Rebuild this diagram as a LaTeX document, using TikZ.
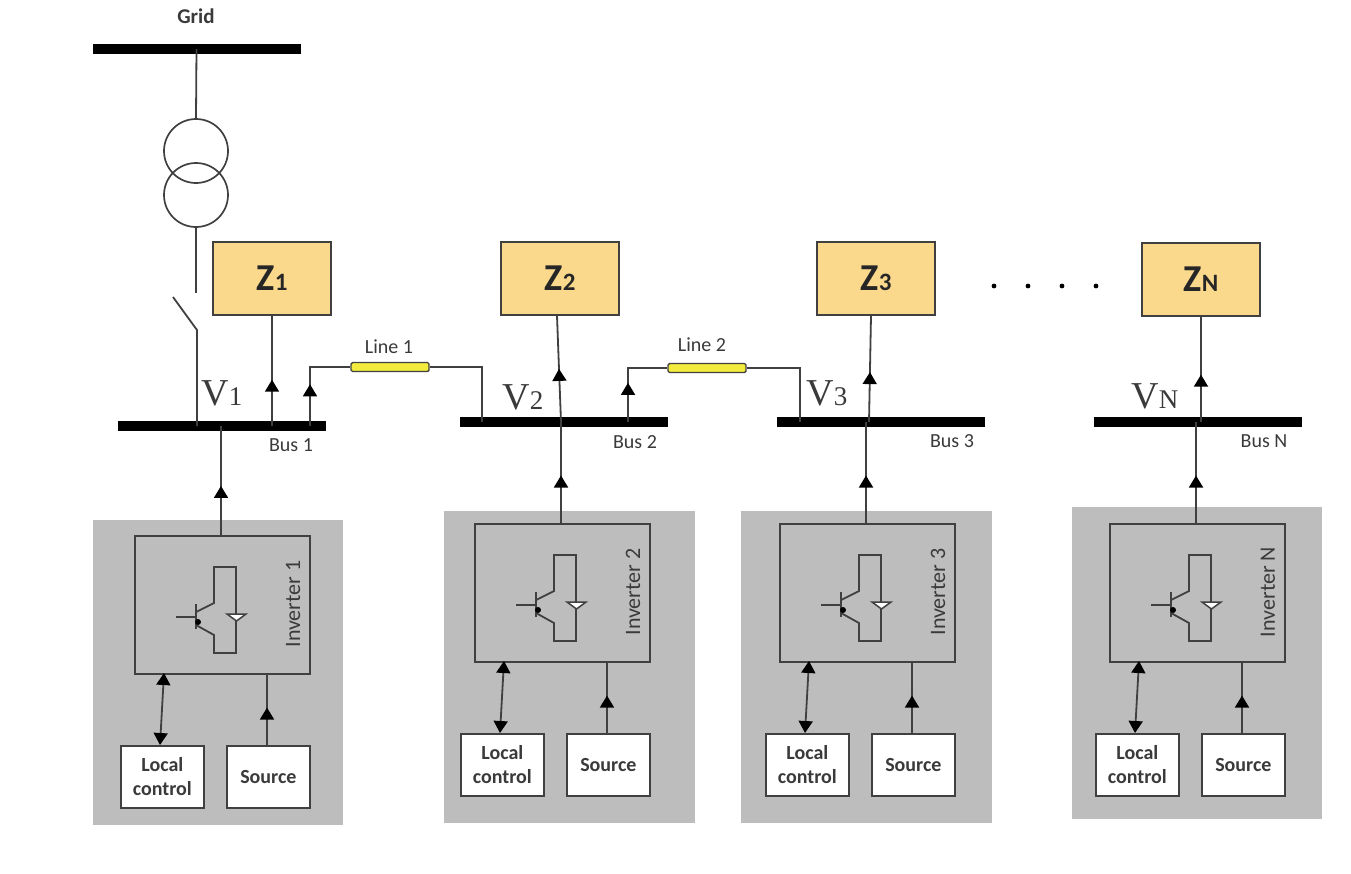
\documentclass[tikz,border=0pt]{standalone}
\usepackage{fontspec}
\setmainfont{Carlito}
\newfontfamily\serifv{Liberation Serif}
\usetikzlibrary{arrows.meta,decorations.markings}
\definecolor{ln}{HTML}{404040}
\definecolor{grayb}{HTML}{BDBDBD}
\definecolor{loadc}{HTML}{FAD98C}
\definecolor{linec}{HTML}{F2EA3C}
\definecolor{txt}{HTML}{3A3A3A}
\tikzset{
  wire/.style={draw=ln,line width=1.8pt},
  tip/.style={},
  midarr/.style={postaction={decorate},decoration={markings,mark=at position #1 with {\arrow[black]{Triangle[length=12pt,width=14pt]}}}},
  busbar/.style={fill=black,draw=none,inner sep=0pt,minimum width=208pt,minimum height=10pt},
  loadbox/.style={draw=ln,line width=1.6pt,fill=loadc,inner sep=0pt,minimum width=118pt,minimum height=73pt,font=\fontsize{38}{38}\selectfont\bfseries,text=black!85},
  invbox/.style={draw=ln,line width=1.8pt,inner sep=0pt,anchor=north west,minimum width=175pt,minimum height=138pt},
  whitebox/.style={draw=ln,line width=1.7pt,fill=white,inner sep=0pt,anchor=north west,minimum width=83pt,minimum height=62pt,align=center,font=\fontsize{20}{24}\selectfont\bfseries,text=txt},
  linebox/.style={draw=ln,line width=1.4pt,fill=linec,rounded corners=1.5pt,inner sep=0pt,minimum width=78pt,minimum height=9pt},
  smalltxt/.style={font=\fontsize{20}{20}\selectfont,text=txt,inner sep=0pt},
  grayarea/.style={fill=grayb,draw=none}
}
\newcommand{\Zlabel}[1]{Z{\fontsize{25}{25}\selectfont #1}}
\newcommand{\Vlabel}[1]{{\serifv\fontsize{38}{38}\selectfont V{\fontsize{27}{27}\selectfont #1}}}
% id, gray x1,y1,x2,y2, box x,y, label
\newcommand{\InvUnit}[8]{
  \fill[grayarea] (#2,#3) rectangle (#4,#5);
  \begin{scope}[shift={(#6,#7)}]
    \node[invbox] (inv#1) at (0,0) {};
    \node[whitebox] (loc#1) at (-14,210) {Local\\control};
    \node[whitebox] (src#1) at (92,210) {Source};
    \node[smalltxt,rotate=90,font=\fontsize{22}{22}\selectfont] (lab#1) at (159,69) {Inverter #8};
    \coordinate (top#1) at (87,0);
    \coordinate (sin#1) at (133,138);
    \coordinate (sou#1) at (133,210);
    \coordinate (cin#1) at (30,138);
    \coordinate (cou#1) at (26,210);
    \draw[wire] (62,82) -- (42,82);
    \draw[wire] (62,69) -- (62,94);
    \draw[wire] (62,77) -- (80,68) -- (80,32) -- (102,32) -- (102,118) -- (80,118) -- (80,100) -- (62,90);
    \fill[black] (64,87) circle (3);
    \draw[wire,line width=1.5pt,fill=white] (93,79) -- (112,79) -- (102.5,86) -- cycle;
    \draw[wire,{Triangle[length=12pt,width=14pt,black]}-{Triangle[length=12pt,width=14pt,black]}] (cin#1) -- (cou#1);
    \draw[wire,midarr=.52] (sou#1) -- (sin#1);
  \end{scope}
}
\begin{document}
\begin{tikzpicture}[x=1pt,y=-1pt]
\useasboundingbox (0,0) rectangle (1351,873);
\fill[white] (0,0) rectangle (1351,873);

% grid side
\node[smalltxt,font=\fontsize{21}{21}\selectfont\bfseries] (grid) at (196,16) {Grid};
\node[busbar] (gridbus) at (196.5,49) {};
\node[draw=ln,line width=1.7pt,circle,inner sep=0pt,minimum size=64pt] (t1) at (196,151) {};
\node[draw=ln,line width=1.7pt,circle,inner sep=0pt,minimum size=64pt] (t2) at (196,195) {};
\coordinate (sw1) at (196,293);
\coordinate (sw2) at (173,297);
\coordinate (sw3) at (197,330);

% buses
\node[busbar] (b1) at (222,426) {};
\node[busbar] (b2) at (563.5,422) {};
\node[busbar] (b3) at (880.5,422) {};
\node[busbar] (bN) at (1198,422) {};

% loads
\node[loadbox] (z1) at (272,278.5) {\Zlabel{1}};
\node[loadbox] (z2) at (560,278.5) {\Zlabel{2}};
\node[loadbox] (z3) at (876,278.5) {\Zlabel{3}};
\node[loadbox] (zN) at (1201,279.5) {\Zlabel{N}};

% inverter units
\InvUnit{1}{93}{520}{343}{825}{134}{535}{1}
\InvUnit{2}{444}{511}{695}{823}{474}{523}{2}
\InvUnit{3}{741}{511}{992}{823}{779}{523}{3}
\InvUnit{N}{1072}{507}{1322}{819}{1109}{523}{N}

% transformer and switch
\draw[wire] (gridbus.center) -- (t1.north);
\draw[wire] (t2.south) -- (sw1);
\draw[wire] (sw2) -- (sw3) -- (sw3 |- b1.center);

% load connectors
\draw[wire,midarr=.42] (b1.center -| z1.south) -- (z1.south);
\draw[wire,midarr=.50] (561,422) -- ([xshift=-3pt]z2.south);
\draw[wire,midarr=.47] (869,422) -- ([xshift=-5pt]z3.south);
\draw[wire,midarr=.45] (bN.center -| zN.south) -- (zN.south);

% inverter connectors
\draw[wire,midarr=.45] (top1) -- (top1 |- b1.center);
\draw[wire,midarr=.47] (top2) -- (top2 |- b2.center);
\draw[wire,midarr=.47] (top3) -- (top3 |- b3.center);
\draw[wire,midarr=.47] (topN) -- (topN |- bN.center);

% lines
\node[linebox] (l1) at (390,367) {};
\node[linebox] (l2) at (707,368) {};
\coordinate (l1a) at (310,426);
\coordinate (l1b) at (482,422);
\coordinate (l2a) at (628,422);
\coordinate (l2b) at (800,422);
\draw[wire,line width=1.5pt,midarr=.42] (l1a) -- (l1a |- l1.west) -- (l1.west);
\draw[wire,line width=1.5pt] (l1.east) -- (l1b |- l1.east) -- (l1b);
\draw[wire,line width=1.5pt,midarr=.42] (l2a) -- (l2a |- l2.west) -- (l2.west);
\draw[wire,line width=1.5pt] (l2.east) -- (l2b |- l2.east) -- (l2b);
\node[smalltxt] (l1t) at (389,347) {Line 1};
\node[smalltxt] (l2t) at (702,345) {Line 2};

% bus labels
\node[smalltxt] (b1t) at (291,445) {Bus 1};
\node[smalltxt] (b2t) at (635,442) {Bus 2};
\node[smalltxt] (b3t) at (952,441) {Bus 3};
\node[smalltxt] (bNt) at (1264,441) {Bus N};

% voltage labels
\node[inner sep=0pt,text=txt] (v1) at (222,393) {\Vlabel{1}};
\node[inner sep=0pt,text=txt] (v2) at (523,397) {\Vlabel{2}};
\node[inner sep=0pt,text=txt] (v3) at (827,393) {\Vlabel{3}};
\node[inner sep=0pt,text=txt] (vN) at (1155,396) {\Vlabel{N}};

% dots
\foreach \x in {994,1028,1062,1096} \fill[black] (\x,286) circle (2.4);
\end{tikzpicture}
\end{document}
